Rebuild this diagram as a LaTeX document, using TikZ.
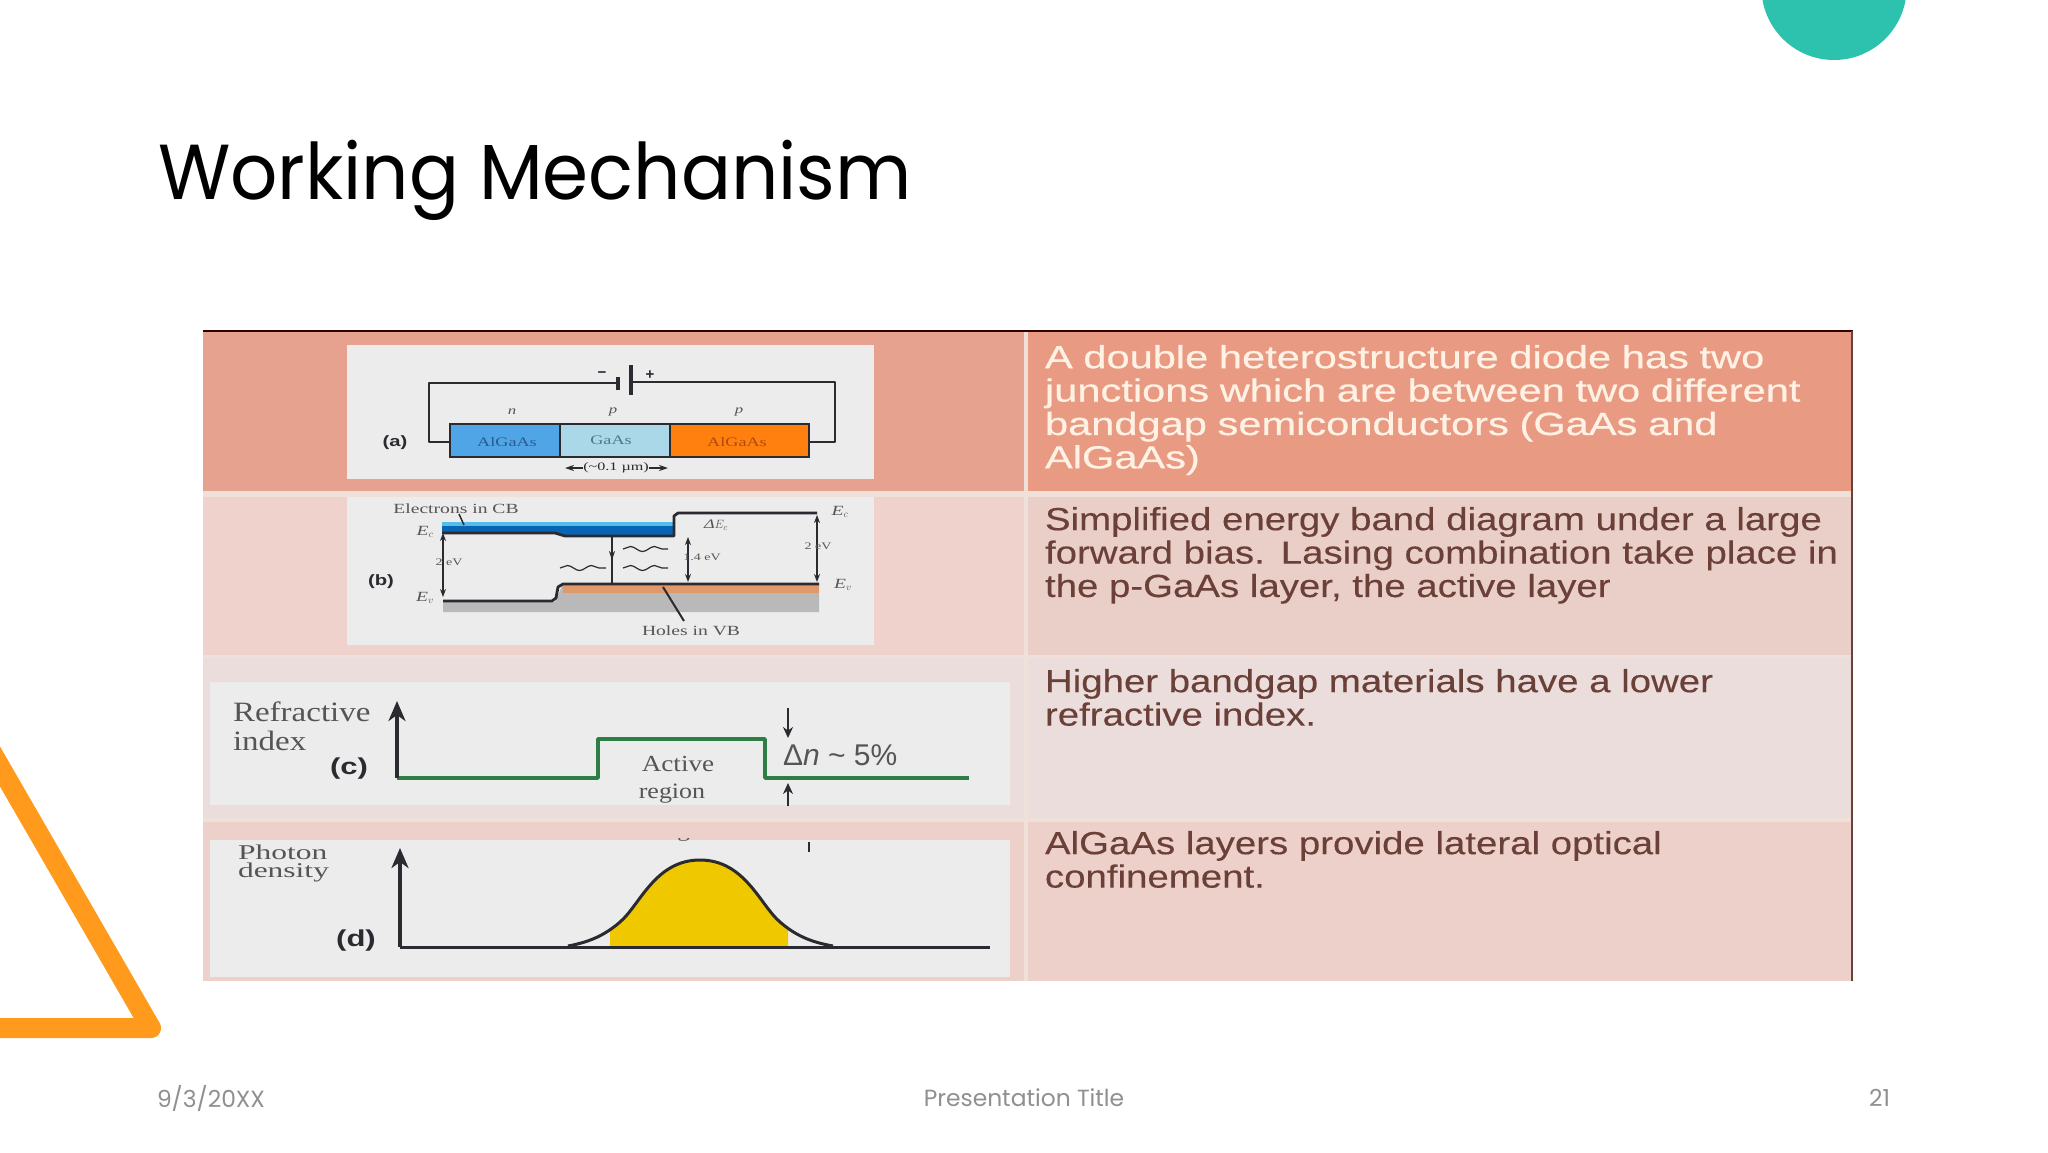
\documentclass[tikz,border=0pt]{standalone}
\usepackage{fontspec}
\setmainfont{Liberation Sans}
\newfontfamily\titlefont[FakeStretch=0.95]{Poppins}
\newfontfamily\footfont{Poppins}
\newfontfamily\serifpart[FakeStretch=1.4]{Liberation Serif}
\newfontfamily\serifmid[FakeStretch=1.18]{Liberation Serif}
\newfontfamily\serifph[FakeStretch=1.5]{Liberation Serif}
\newfontfamily\sanswide[FakeStretch=1.35]{Liberation Sans}
\newfontfamily\bodyfont[FakeStretch=1.2,FakeBold=0.25]{Liberation Sans}
\newfontfamily\bodyfirst[FakeStretch=1.3,FakeBold=0.6]{Liberation Sans}
\usetikzlibrary{arrows.meta,decorations.pathmorphing}
\definecolor{rowAL}{HTML}{E6A28E}
\definecolor{rowAR}{HTML}{E89A83}
\definecolor{rowBL}{HTML}{EFD2CB}
\definecolor{rowBR}{HTML}{E9CFC8}
\definecolor{rowCL}{HTML}{EBDDDB}
\definecolor{rowDL}{HTML}{EDD0CA}
\definecolor{gapc}{HTML}{F0E0DA}
\definecolor{panel}{HTML}{ECECEC}
\definecolor{teal1}{HTML}{2DC2AE}
\definecolor{orng}{HTML}{FF9A1C}
\definecolor{wire}{HTML}{2A2A30}
\definecolor{gr}{HTML}{2E7D46}
\definecolor{ink}{HTML}{6B4038}
\definecolor{lab}{HTML}{555555}
\definecolor{foot}{HTML}{909090}
\definecolor{cellblue}{HTML}{4FA5E5}
\definecolor{celllight}{HTML}{ABD8E8}
\definecolor{cellorange}{HTML}{FF7F0F}
\definecolor{bandlight}{HTML}{54BEEB}
\definecolor{banddark}{HTML}{0A64B4}
\definecolor{holeorange}{HTML}{E09A6A}
\definecolor{yel}{HTML}{F0C800}
\definecolor{txtblue}{HTML}{2A5A90}
\definecolor{txtred}{HTML}{B04A10}
\definecolor{txtteal}{HTML}{4A7A88}
\tikzset{
 px/.style={inner sep=0pt,outer sep=0pt},
 wirel/.style={draw=wire,line width=2.8pt,line join=round},
 thin1/.style={draw=wire,line width=1.5pt},
 arr/.style={draw=wire,line width=1.5pt,-{Stealth[length=9pt,width=6pt]}},
 darr/.style={draw=wire,line width=1.4pt,{Stealth[length=8pt,width=6pt]}-{Stealth[length=8pt,width=6pt]}},
 bigarr/.style={draw=wire,line width=3.4pt,-{Stealth[length=20pt,width=17pt,inset=6pt]}},
 tiny1/.style={px,font=\serifpart\fontsize{11.5}{11.5}\selectfont,text=lab},
 mid1/.style={px,font=\serifpart\fontsize{13}{13}\selectfont,text=lab},
 big1/.style={px,font=\serifmid\fontsize{28}{28}\selectfont,text=lab},
 tag/.style={px,font=\sanswide\bfseries\fontsize{15}{15}\selectfont,text=wire},
 tagb/.style={px,font=\sanswide\bfseries\fontsize{23}{23}\selectfont,text=wire},
 body/.style={px,anchor=north west,align=left,text width=820pt,font=\bodyfont\fontsize{32}{33.4}\selectfont},
 wav/.style={draw=wire,line width=1.2pt,decorate,decoration={snake,amplitude=2.5pt,segment length=24pt}},
 foottxt/.style={px,font=\footfont\fontsize{23.4}{24}\selectfont,text=foot}
}
\begin{document}
\begin{tikzpicture}[x=1pt,y=-1pt]
\useasboundingbox (0,0) rectangle (2048,1152);
\fill[white] (0,0) rectangle (2048,1152);
% decorations
\fill[teal1] (1834,-12.6) circle (72.6);
\draw[orng,line width=20pt,line join=round] (-28,718) -- (151,1028) -- (-28,1028);
% table
\fill[gapc] (203,331) rectangle (1852,981);
\fill[rowAL] (203,332) rectangle (1024,491);
\fill[rowAR] (1028,332) rectangle (1851,491);
\fill[rowBL] (203,497) rectangle (1024,655);
\fill[rowBR] (1028,497) rectangle (1851,655);
\fill[rowCL] (203,658) rectangle (1024,818);
\fill[rowCL] (1028,658) rectangle (1851,818);
\fill[rowDL] (203,822) rectangle (1024,981);
\fill[rowDL] (1028,822) rectangle (1851,981);
\draw[draw=black!80!red,line width=2.5pt] (203,331) -- (1853,331);
\draw[draw=ink,line width=1.5pt] (1852,331) -- (1852,981);
% panels
\fill[panel] (347,345) rectangle (874,479);
\fill[panel] (347,497) rectangle (874,645);
\fill[panel] (210,682) rectangle (1010,805);
\fill[panel] (210,840) rectangle (1010,977);
% panel a
\coordinate (wL) at (450,442); \coordinate (wR) at (809,442);
\draw[wirel] (wL) -- (429,442) -- (429,383) -- (618,383);
\draw[wirel] (631,382) -- (835,382) -- (835,442) -- (wR);
\draw[draw=wire,line width=3.5pt] (618,377) -- (618,390);
\draw[draw=wire,line width=4pt] (631,365) -- (631,395);
\node[px,font=\bfseries\fontsize{15}{15}\selectfont,text=wire] (minus) at (602,375) {−};
\node[px,font=\bfseries\fontsize{15}{15}\selectfont,text=wire] (plus) at (650,375) {+};
\filldraw[draw=wire,line width=2.8pt,fill=cellblue] (450,424) rectangle (560,457);
\filldraw[draw=wire,line width=2.8pt,fill=celllight] (560,424) rectangle (670,457);
\filldraw[draw=wire,line width=2.8pt,fill=cellorange] (670,424) rectangle (809,457);
\node[tiny1,font=\serifpart\fontsize{13}{13}\selectfont,text=txtblue] (t1) at (507,442) {AlGaAs};
\node[tiny1,font=\serifpart\fontsize{13}{13}\selectfont,text=txtteal] (t2) at (611,440) {GaAs};
\node[tiny1,font=\serifpart\fontsize{13}{13}\selectfont,text=txtred] (t3) at (737,442) {AlGaAs};
\node[tiny1,font=\serifpart\itshape\fontsize{12}{12}\selectfont] (n1) at (512,412) {n};
\node[tiny1,font=\serifpart\itshape\fontsize{12}{12}\selectfont] (p1) at (613,412) {p};
\node[tiny1,font=\serifpart\itshape\fontsize{12}{12}\selectfont] (p2) at (739,412) {p};
\node[tag] (ta) at (395,443) {(a)};
\node[tiny1,text=wire] (w) at (616,468) {(\textasciitilde0.1 µm)};
\draw[arr] (w.west) -- (565,468);
\draw[arr] (w.east) -- (668,468);
% panel b
\fill[gray!55] (443,602) -- (555,602) -- (563,584) -- (819,584) -- (819,612) -- (443,612) -- cycle;
\fill[holeorange] (563,585) rectangle (819,593);
\fill[bandlight] (442,522) rectangle (674,527);
\fill[banddark] (442,526) -- (674,526) -- (674,535) -- (565,535) -- (555,532) -- (442,532) -- cycle;
\draw[wirel] (442,533) -- (555,533) -- (565,536) -- (674,536) -- (674,516) -- (678,513) -- (817,513);
\draw[wirel] (443,601) -- (552,601) -- (556,598) -- (558,587) -- (563,584) -- (819,584);
\node[px,font=\serifpart\fontsize{14}{14}\selectfont,text=lab] (ecb) at (456,509) {Electrons in CB};
\draw[thin1] (459,514) -- (464,525);
\node[mid1,font=\serifpart\itshape\fontsize{14}{14}\selectfont] (ecl) at (425,532) {E$_c$};
\node[mid1,font=\serifpart\itshape\fontsize{14}{14}\selectfont] (evl) at (425,598) {E$_v$};
\node[mid1,font=\serifpart\itshape\fontsize{14}{14}\selectfont] (ecr) at (840,512) {E$_c$};
\node[mid1,font=\serifpart\itshape\fontsize{14}{14}\selectfont] (evr) at (843,585) {E$_v$};
\draw[darr] (443,533) -- (443,597);
\node[px,font=\serifpart\fontsize{10}{10}\selectfont,text=lab] (e2) at (449,562) {2 eV};
\draw[arr] (612,536) -- (612,560);
\draw[thin1] (612,555) -- (612,584);
\draw[wav] (623,549) -- (668,549);
\draw[wav] (560,568) -- (606,568);
\draw[wav] (623,568) -- (668,568);
\draw[darr] (688,537) -- (688,582);
\node[px,font=\serifpart\fontsize{10}{10}\selectfont,text=lab] (e14) at (702,557) {1.4 eV};
\node[mid1,font=\serifpart\itshape\fontsize{13}{13}\selectfont] (de) at (716,525) {Δ$E_c$};
\draw[darr] (817,515) -- (817,582);
\node[px,font=\serifpart\fontsize{10}{10}\selectfont,text=lab] (e2r) at (818,546) {2 eV};
\node[tag] (tb) at (381,582) {(b)};
\node[px,font=\serifpart\fontsize{14}{14}\selectfont,text=lab] (holes) at (691,631) {Holes in VB};
\draw[thin1,line width=2pt] (663,587) -- (684,621);
% panel c
\node[big1,anchor=west] (ri1) at (233,712) {Refractive};
\node[big1,anchor=west] (ri2) at (233,741) {index};
\node[tagb] (tc) at (349,769) {(c)};
\draw[draw=gr,line width=3.5pt,line join=round] (397,778) -- (598,778) -- (598,739) -- (765,739) -- (765,778) -- (969,778);
\draw[bigarr] (397,778) -- (397,701);
\node[px,font=\serifmid\fontsize{23}{23}\selectfont,text=lab] (act) at (678,764) {Active};
\node[px,font=\serifmid\fontsize{22}{22}\selectfont,text=lab] (reg) at (672,794) {region};
\draw[draw=wire,line width=2pt,-{Stealth[length=11pt,width=10pt]}] (788,708) -- (788,738);
\draw[draw=wire,line width=2pt,-{Stealth[length=11pt,width=10pt]}] (788,806) -- (788,783);
\node[px,anchor=west,font=\fontsize{30}{30}\selectfont,text=lab] (dn) at (783,755) {Δ\textit{n} \textasciitilde{} 5\%};
% panel d
\begin{scope}
\clip (210,838) rectangle (1010,860);
\node[px,font=\serifpart\fontsize{18}{18}\selectfont,text=lab] (frag) at (690,833) {region};
\end{scope}
\draw[draw=wire,line width=2pt] (809,842) -- (809,852);
\node[px,anchor=west,font=\serifph\fontsize{21}{21}\selectfont,text=lab] (pd1) at (238,852) {Photon};
\node[px,anchor=west,font=\serifph\fontsize{21}{21}\selectfont,text=lab] (pd2) at (238,872) {density};
\node[tagb] (td) at (356,941) {(d)};
\begin{scope}
\clip (610,850) rectangle (788,947);
\fill[yel] (568,946) .. controls (590,942) and (605,935) .. (620,922) .. controls (640,905) and (655,860) .. (700,860) .. controls (745,860) and (760,905) .. (780,922) .. controls (795,935) and (810,942) .. (833,946) -- cycle;
\end{scope}
\draw[draw=wire,line width=3pt] (568,946) .. controls (590,942) and (605,935) .. (620,922) .. controls (640,905) and (655,860) .. (700,860) .. controls (745,860) and (760,905) .. (780,922) .. controls (795,935) and (810,942) .. (833,946);
\draw[draw=wire,line width=3pt] (400,947) -- (990,947);
\draw[bigarr] (400,947) -- (400,848);
% right texts
\node[body,font=\bodyfirst\fontsize{32}{33.4}\selectfont,text=white!90!orange] (ra) at (1045,345) {A double heterostructure diode has two\\junctions which are between two different\\bandgap semiconductors (GaAs and\\AlGaAs)};
\node[body,text=ink] (rb) at (1045,507) {Simplified energy band diagram under a large\\forward bias. Lasing combination take place in\\the p-GaAs layer, the active layer};
\node[body,text=ink] (rc) at (1045,669) {Higher bandgap materials have a lower\\refractive index.};
\node[body,text=ink] (rd) at (1045,831) {AlGaAs layers provide lateral optical\\confinement.};
% title, footer
\node[px,anchor=base west,font=\titlefont\fontsize{78}{78}\selectfont,text=black] (title) at (158,199) {Working Mechanism};
\node[foottxt,anchor=west] (f1) at (157,1098) {9/3/20XX};
\node[foottxt] (f2) at (1024,1098) {Presentation Title};
\node[foottxt,anchor=east] (f3) at (1890,1098) {21};
\end{tikzpicture}
\end{document}
